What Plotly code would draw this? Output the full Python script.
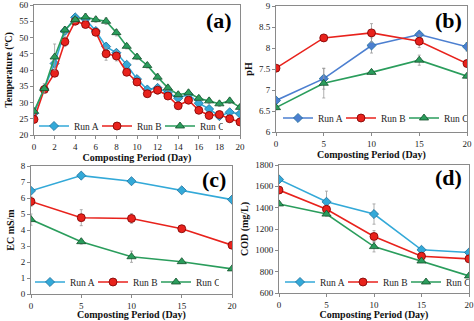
import plotly.graph_objects as go

# ---- data ----
days_a = list(range(0, 21))
temp_a = [26.7, 34.1, 42.0, 52.0, 56.2, 55.6, 52.0, 47.2, 45.3, 41.6, 37.2, 34.0, 34.5, 33.0, 31.3, 32.5, 29.8, 28.0, 25.8, 27.0, 26.5]
temp_b = [24.8, 34.0, 39.0, 48.7, 55.0, 54.0, 51.6, 45.0, 44.3, 39.3, 36.3, 32.7, 33.8, 32.0, 29.0, 30.7, 27.6, 26.0, 26.3, 25.0, 24.0]
temp_c = [27.3, 34.3, 44.0, 52.3, 55.5, 56.3, 55.5, 55.0, 51.5, 47.3, 44.0, 41.4, 37.8, 34.5, 32.4, 33.0, 31.3, 30.5, 29.6, 30.5, 28.5]
temp_err_a = [0.8, 1.0, 1.0, 1.0, 0.8, 0.8, 1.0, 1.0, 1.0, 0.8, 0.8, 0.8, 0.8, 0.8, 0.8, 0.8, 0.8, 0.8, 1.0, 0.8, 0.8]
temp_err_b = [0.8, 1.0, 1.0, 1.5, 0.8, 0.8, 1.0, 2.0, 1.5, 1.0, 1.0, 1.0, 1.2, 0.8, 0.8, 0.8, 0.8, 0.8, 1.0, 0.8, 0.8]
temp_err_c = [0.8, 1.5, 4.0, 1.0, 0.8, 1.0, 0.8, 1.0, 1.0, 0.8, 0.8, 0.8, 1.0, 0.8, 0.8, 0.8, 0.8, 0.8, 0.8, 0.8, 0.8]

days = [0, 5, 10, 15, 20]
ph_a = [6.75, 7.27, 8.06, 8.32, 8.03]
ph_b = [7.52, 8.24, 8.36, 8.16, 7.63]
ph_c = [6.58, 7.16, 7.42, 7.71, 7.33]
ph_err_a = [0.05, 0.25, 0.18, 0.05, 0.1]
ph_err_b = [0.05, 0.05, 0.22, 0.15, 0.08]
ph_err_c = [0.05, 0.35, 0.05, 0.12, 0.05]

ec_a = [6.45, 7.4, 7.05, 6.48, 5.9]
ec_b = [5.78, 4.77, 4.72, 4.08, 3.05]
ec_c = [4.65, 3.27, 2.33, 2.02, 1.57]
ec_err_a = [0.1, 0.1, 0.1, 0.1, 0.1]
ec_err_b = [0.3, 0.5, 0.3, 0.1, 0.1]
ec_err_c = [0.35, 0.15, 0.35, 0.1, 0.1]

cod_a = [1665, 1455, 1340, 1005, 980]
cod_b = [1565, 1385, 1130, 945, 920]
cod_c = [1435, 1340, 1035, 900, 760]
cod_err_a = [15, 100, 95, 15, 15]
cod_err_b = [15, 20, 55, 20, 20]
cod_err_c = [15, 20, 50, 15, 15]

run_names = ["Run A", "Run B", "Run C"]

# ---- styles ----
cyan = "#33a9d8"
blue_b = "#4c7fd0"
red = "#e8221c"
green = "#2a9d5c"
serif = "Liberation Serif"

def styles(a_color):
    return [
        dict(color=a_color, symbol="diamond", size=7, line=dict(color="#1f6f9a", width=0.8)),
        dict(color=red, symbol="circle", size=8, line=dict(color="#7a0000", width=0.8)),
        dict(color=green, symbol="triangle-up", size=8, line=dict(color="#14502c", width=0.8)),
    ]

line_colors = {"a": [cyan, red, green], "b": [blue_b, red, green], "c": [cyan, red, green], "d": [cyan, red, green]}

fig = go.Figure()

panels = [
    ("a", "x", "y", "legend", days_a, [temp_a, temp_b, temp_c], [temp_err_a, temp_err_b, temp_err_c]),
    ("b", "x2", "y2", "legend2", days, [ph_a, ph_b, ph_c], [ph_err_a, ph_err_b, ph_err_c]),
    ("c", "x3", "y3", "legend3", days, [ec_a, ec_b, ec_c], [ec_err_a, ec_err_b, ec_err_c]),
    ("d", "x4", "y4", "legend4", days, [cod_a, cod_b, cod_c], [cod_err_a, cod_err_b, cod_err_c]),
]

for key, xa, ya, lg, xs, series, errs in panels:
    mk = styles(line_colors[key][0])
    for i in range(3):
        fig.add_trace(go.Scatter(
            x=xs, y=series[i], mode="lines+markers", name=run_names[i],
            xaxis=xa, yaxis=ya, legend=lg,
            line=dict(color=line_colors[key][i], width=1.6),
            marker=mk[i],
            error_y=dict(type="data", array=errs[i], color="#9a9a9a", thickness=0.8, width=1.5),
        ))

W, H = 474, 321
def xd(a, b):
    return [a / W, b / W]
def yd(top, bottom):
    return [1 - bottom / H, 1 - top / H]

tickfont = dict(family=serif, size=9, color="#222")
titlefont = dict(family=serif, size=10, color="#111")

def xaxis(domain, anchor, dtick, rng):
    return dict(domain=domain, anchor=anchor, range=rng, dtick=dtick, tick0=0,
                showline=True, linecolor="#8a8a8a", linewidth=1, mirror=True,
                ticks="outside", ticklen=3, tickcolor="#8a8a8a", showgrid=False, zeroline=False,
                tickfont=tickfont,
                title=dict(text="<b>Composting Period (Day)</b>", font=titlefont, standoff=3))

def yaxis(domain, anchor, dtick, rng, title):
    return dict(domain=domain, anchor=anchor, range=rng, dtick=dtick,
                showline=True, linecolor="#8a8a8a", linewidth=1, mirror=True,
                ticks="outside", ticklen=3, tickcolor="#8a8a8a", showgrid=False, zeroline=False,
                tickfont=tickfont,
                title=dict(text=title, font=titlefont, standoff=4))

legend_common = dict(orientation="h", bgcolor="rgba(0,0,0,0)", font=dict(family=serif, size=9.5, color="#222"),
                     xanchor="left", yanchor="middle", itemwidth=30, tracegroupgap=0,
                     entrywidth=18, entrywidthmode="pixels")

fig.update_layout(
    width=W, height=H, margin=dict(l=0, r=0, t=0, b=0, autoexpand=False),
    paper_bgcolor="white", plot_bgcolor="white",
    xaxis=xaxis(xd(34, 240), "y", 2, [0, 20]),
    yaxis=yaxis(yd(5, 135), "x", 5, [20, 60], "<b>Temperature (<sup>o</sup>C)</b>"),
    xaxis2=xaxis(xd(276, 467), "y2", 5, [0, 20]),
    yaxis2=yaxis(yd(6, 132), "x2", 0.5, [6, 9], "<b>pH</b>"),
    xaxis3=xaxis(xd(31, 232), "y3", 5, [0, 20]),
    yaxis3=yaxis(yd(166, 294), "x3", 1, [0, 8], "<b>EC mS/m</b>"),
    xaxis4=xaxis(xd(279, 469), "y4", 5, [0, 20]),
    yaxis4=yaxis(yd(165, 293), "x4", 200, [600, 1800], "<b>COD (mg/L)</b>"),
    legend=dict(x=34 / W, y=1 - 126 / H, **legend_common),
    legend2=dict(x=278 / W, y=1 - 118 / H, **legend_common),
    legend3=dict(x=30 / W, y=1 - 282 / H, **legend_common),
    legend4=dict(x=280 / W, y=1 - 282 / H, **legend_common),
    showlegend=True,
)

for txt, x, y in [("(a)", 234, 20), ("(b)", 464, 20), ("(c)", 228, 180), ("(d)", 464, 178)]:
    fig.add_annotation(text="<b>%s</b>" % txt, x=x / W, y=1 - y / H, xref="paper", yref="paper",
                       xanchor="right", yanchor="middle", showarrow=False,
                       font=dict(family=serif, size=22, color="#000"))

fig.write_html("out.html")
